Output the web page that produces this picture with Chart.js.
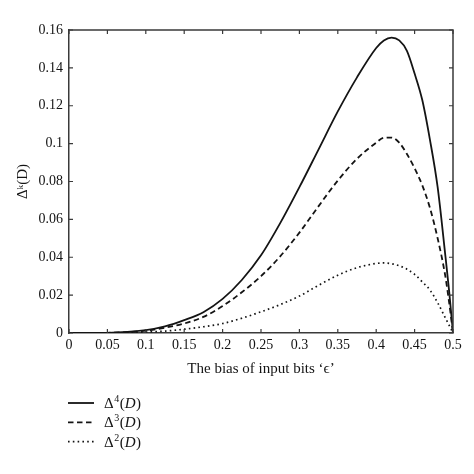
<!DOCTYPE html>
<html>
<head>
<meta charset="utf-8">
<script src="https://cdn.jsdelivr.net/npm/chart.js@4.4.0/dist/chart.umd.min.js"></script>
<style>
    html, body { margin: 0; padding: 0; background: #fff; }
    #wrap { width: 474px; height: 474px; }
</style>
</head>
<body>
<div id="wrap"><canvas id="deltaChart"></canvas></div>
<script>
// valores
const eps = [0, 0.05, 0.1, 0.125, 0.15, 0.175, 0.2, 0.225, 0.25, 0.275, 0.3, 0.325,
             0.35, 0.375, 0.4, 0.41, 0.42, 0.43, 0.44, 0.45, 0.46, 0.47, 0.48, 0.49, 0.495, 0.5];
const delta4 = [0, 0.0001, 0.0015, 0.0035, 0.0068, 0.011, 0.018, 0.028, 0.041, 0.058, 0.077, 0.097,
                0.117, 0.135, 0.1505, 0.1545, 0.156, 0.1545, 0.149, 0.137, 0.123, 0.102, 0.077, 0.041, 0.022, 0];
const delta3 = [0, 0.0001, 0.0012, 0.0028, 0.005, 0.0085, 0.0142, 0.0215, 0.030, 0.0405, 0.053, 0.067,
                0.0805, 0.092, 0.1005, 0.1031, 0.1032, 0.1005, 0.0945, 0.087, 0.078, 0.066, 0.050, 0.030, 0.016, 0];
const delta2 = [0, 0, 0.0005, 0.001, 0.002, 0.0033, 0.005, 0.0078, 0.0112, 0.015, 0.0195, 0.0252,
                0.0305, 0.0345, 0.0367, 0.037, 0.0366, 0.0355, 0.0337, 0.031, 0.027, 0.0227, 0.016, 0.008, 0.004, 0];
const seriesLabels = ['Δ⁴(D)', 'Δ³(D)', 'Δ²(D)'];
const xTicks = [0, 0.05, 0.1, 0.15, 0.2, 0.25, 0.3, 0.35, 0.4, 0.45, 0.5];
const yTicks = [0, 0.02, 0.04, 0.06, 0.08, 0.1, 0.12, 0.14, 0.16];

const SERIF = '"Liberation Serif", "DejaVu Serif", serif';
const INK = '#141414';
const FRAME = '#3a3a3a';

const toPoints = (ys) => eps.map((x, i) => ({ x: x, y: ys[i] }));

// marco con marcas hacia dentro en los cuatro lados
const frameTicks = {
    id: 'frameTicks',
    afterDatasetsDraw(chart) {
        const { ctx, chartArea: a, scales: { x, y } } = chart;
        ctx.save();
        ctx.strokeStyle = FRAME;
        ctx.lineWidth = 1.5;
        ctx.beginPath();
        ctx.moveTo(a.left, a.top);
        ctx.lineTo(a.right, a.top);
        ctx.lineTo(a.right, a.bottom);
        ctx.stroke();
        ctx.lineWidth = 1.2;
        ctx.beginPath();
        xTicks.forEach(v => {
            const px = x.getPixelForValue(v);
            ctx.moveTo(px, a.bottom); ctx.lineTo(px, a.bottom - 4);
            ctx.moveTo(px, a.top); ctx.lineTo(px, a.top + 4);
        });
        yTicks.forEach(v => {
            const py = y.getPixelForValue(v);
            ctx.moveTo(a.left, py); ctx.lineTo(a.left + 4, py);
            ctx.moveTo(a.right, py); ctx.lineTo(a.right - 4, py);
        });
        ctx.stroke();
        ctx.restore();
    }
};

// leyenda vertical debajo del eje, con superíndice y D en cursiva
const SUP = { '⁴': '4', '³': '3', '²': '2' };
const stackedLegend = {
    id: 'stackedLegend',
    afterDraw(chart) {
        const { ctx, chartArea: a } = chart;
        ctx.save();
        chart.data.datasets.forEach((ds, i) => {
            const yy = a.bottom + 70 + i * 19.3;
            const x0 = a.left - 1;
            ctx.strokeStyle = ds.borderColor;
            ctx.lineWidth = ds.borderWidth;
            ctx.setLineDash(ds.borderDash || []);
            ctx.beginPath();
            ctx.moveTo(x0, yy);
            ctx.lineTo(x0 + 26, yy);
            ctx.stroke();
            ctx.setLineDash([]);

            const txt = ds.label;
            let tx = x0 + 36;
            const base = yy + 5;
            ctx.fillStyle = INK;
            ctx.textBaseline = 'alphabetic';
            ctx.textAlign = 'left';
            ctx.font = '15px ' + SERIF;
            ctx.fillText(txt[0], tx, base);
            tx += ctx.measureText(txt[0]).width + 0.5;
            ctx.font = '10px ' + SERIF;
            const s = SUP[txt[1]];
            ctx.fillText(s, tx, base - 6);
            tx += ctx.measureText(s).width + 0.5;
            ctx.font = '15px ' + SERIF;
            ctx.fillText('(', tx, base);
            tx += ctx.measureText('(').width;
            ctx.font = 'italic 15px ' + SERIF;
            ctx.fillText('D', tx, base);
            tx += ctx.measureText('D').width + 0.5;
            ctx.font = '15px ' + SERIF;
            ctx.fillText(')', tx, base);
        });
        ctx.restore();
    }
};

const ctxLine = document.getElementById('deltaChart');
new Chart(ctxLine, {
    type: 'line',
    data: {
        datasets: [
            { label: seriesLabels[0], data: toPoints(delta4), borderColor: INK, borderWidth: 1.8, borderDash: [] },
            { label: seriesLabels[1], data: toPoints(delta3), borderColor: INK, borderWidth: 1.8, borderDash: [5.5, 3.5] },
            { label: seriesLabels[2], data: toPoints(delta2), borderColor: INK, borderWidth: 1.7, borderDash: [1.6, 3.2] }
        ]
    },
    options: {
        responsive: true,
        maintainAspectRatio: false,
        animation: false,
        layout: { padding: { top: 30, right: 21, bottom: 96, left: 0 } },
        elements: {
            point: { radius: 0, hoverRadius: 0 },
            line: { cubicInterpolationMode: 'monotone', fill: false }
        },
        scales: {
            x: {
                type: 'linear',
                min: 0,
                max: 0.5,
                afterBuildTicks: (s) => { s.ticks = xTicks.map(v => ({ value: v })); },
                afterFit: (s) => { s.height = 45; },
                grid: { display: false, drawTicks: false },
                border: { display: true, color: FRAME, width: 1.5 },
                ticks: {
                    padding: 4,
                    color: INK,
                    font: { family: SERIF, size: 14 },
                    maxRotation: 0,
                    callback: (v) => String(+v.toFixed(2))
                },
                title: {
                    display: true,
                    text: 'The bias of input bits ‘ϵ’',
                    color: INK,
                    font: { family: SERIF, size: 15 },
                    padding: { top: 0, bottom: 0 }
                }
            },
            y: {
                min: 0,
                max: 0.16,
                afterBuildTicks: (s) => { s.ticks = yTicks.map(v => ({ value: v })); },
                afterFit: (s) => { s.width = 69; },
                grid: { display: false, drawTicks: false },
                border: { display: true, color: FRAME, width: 1.5 },
                ticks: {
                    padding: 6,
                    color: INK,
                    font: { family: SERIF, size: 14 },
                    callback: (v) => String(+v.toFixed(2))
                },
                title: {
                    display: true,
                    text: 'Δᵏ(D)',
                    color: INK,
                    font: { family: SERIF, size: 15 },
                    padding: { top: 14, bottom: 0 }
                }
            }
        },
        plugins: {
            legend: { display: false },
            tooltip: { enabled: false }
        }
    },
    plugins: [frameTicks, stackedLegend]
});
</script>
</body>
</html>
